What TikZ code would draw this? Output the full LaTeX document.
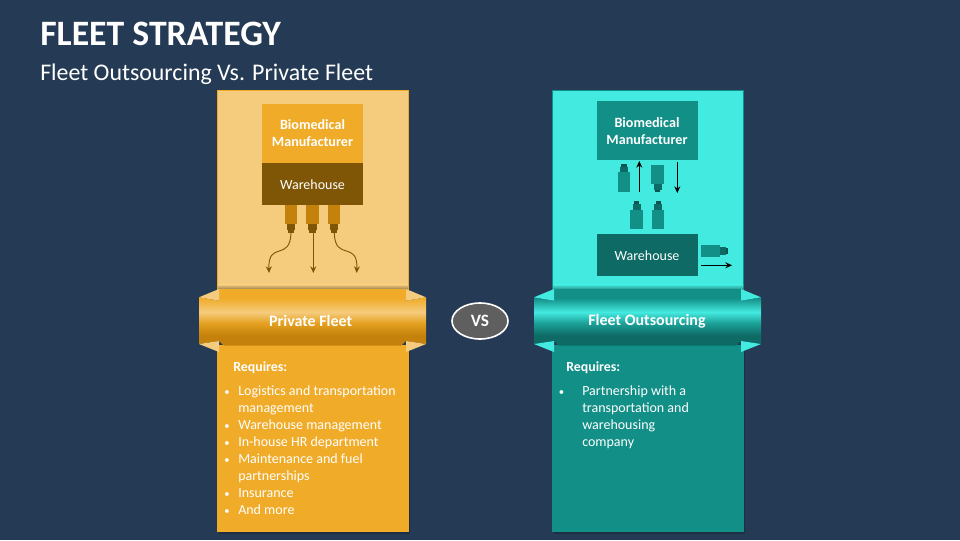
\documentclass[tikz,border=0pt]{standalone}
\usepackage{fontspec}
\setmainfont{Carlito}
\usetikzlibrary{arrows.meta,shapes.geometric}
\definecolor{bgc}{HTML}{253A54}
\definecolor{orA}{HTML}{F0AB28}
\definecolor{orL}{HTML}{F5CC7D}
\definecolor{orD}{HTML}{C4820C}
\definecolor{orW}{HTML}{7E5606}
\definecolor{teA}{HTML}{128F87}
\definecolor{teL}{HTML}{43EAE0}
\definecolor{teD}{HTML}{0D6A64}
\definecolor{vsc}{HTML}{5F5F5F}
\pgfdeclareverticalshading{ribbonor}{100bp}{
 color(0bp)=(orD); color(25bp)=(orD); color(34bp)=(orD); color(45bp)=(orA!75!orD); color(54.7bp)=(orL); color(67bp)=(orA); color(100bp)=(orA)}
\pgfdeclareverticalshading{ribbonte}{100bp}{
 color(0bp)=(teD); color(25bp)=(teD); color(34bp)=(teD); color(45bp)=(teA!80!teL); color(54.7bp)=(teL); color(67bp)=(teA); color(100bp)=(teA)}
\tikzset{
 x=0.75pt,y=-0.75pt,
 txt/.style={text=white,inner sep=0pt,font=\fontsize{10.5}{12.75}\selectfont},
 boxlabel/.style={txt,align=center,font=\fontsize{10.5}{10.5}\selectfont},
 boxtitle/.style={boxlabel,font=\fontsize{10.6}{12.75}\selectfont\bfseries},
 ribbonlabel/.style={txt,font=\fontsize{12}{14}\selectfont\bfseries},
 listtext/.style={txt,align=left,anchor=north west},
 reqlabel/.style={txt,anchor=base west,font=\fontsize{10.4}{12}\selectfont\bfseries},
 flowOr/.style={draw=orW,line width=0.7pt,-{Stealth[length=5pt,width=4.5pt]}},
 flowTe/.style={draw=black,line width=0.7pt,-{Stealth[length=5pt,width=4.5pt]}},
 sh/.style={fill=black,fill opacity=0.18,draw=none},
}
\newcommand{\lbul}{{\fontsize{8}{8}\selectfont\textbullet}}
\newcommand{\pitem}{\leavevmode\llap{\lbul\hspace{6.5pt}}}
\newcommand{\qitem}{\leavevmode\llap{\lbul\hspace{13.5pt}}}
\begin{document}
\begin{tikzpicture}
\useasboundingbox (0,0) rectangle (960,540);
\fill[bgc] (0,0) rectangle (960,540);
% title
\node[txt,anchor=base west,font=\fontsize{26.8}{30}\selectfont\bfseries] (title) at (40,45.7) {FLEET STRATEGY};
\node[txt,anchor=base west,font=\fontsize{17.9}{20}\selectfont] (subtitle) at (40,80) {Fleet Outsourcing Vs. Private Fleet};
% left panels
\fill[sh] (218.5,346) rectangle (410,533.5);
\fill[orA] (217.3,345) rectangle (408.7,531.7);
\filldraw[draw=orA,fill=orL,line width=0.75pt] (217.6,90.4) rectangle (408.4,289);
\shade[top color=orL,bottom color=orL!65!black] (218,284.5) rectangle (408,289);
% right panels
\fill[sh] (553.5,346) rectangle (745,533.5);
\fill[teA] (552.3,345) rectangle (743.7,531.7);
\filldraw[draw=teA,fill=teL,line width=0.75pt] (552.6,90.4) rectangle (743.4,289);
\shade[top color=teL,bottom color=teL!65!black] (553,284.5) rectangle (743,289);
% ribbons
\foreach \dx/\shd/\lite in {0/ribbonor/orL,335/ribbonte/teL}{
 \begin{scope}[shift={(\dx,0)}]
 \shade[shading=\shd] (199,297.3) -- (219,300.7) -- (219,289) -- (406,289) -- (406,300.7) -- (426,297.3) -- (426,344) -- (406,341) -- (401,345.7) -- (224,345.7) -- (219,341) -- (199,344) -- cycle;
 \fill[\lite] (219,289) -- (199,297.3) -- (219,300.7) -- cycle;
 \fill[\lite] (219,352) -- (199,344) -- (219,341) -- cycle;
 \fill[\lite] (406,289) -- (426,297.3) -- (406,300.7) -- cycle;
 \fill[\lite] (406,352) -- (426,344) -- (406,341) -- cycle;
 \end{scope}
}
\node[ribbonlabel] (ribA) at (310.7,321) {Private Fleet};
\node[ribbonlabel] (ribB) at (647,321) {Fleet Outsourcing};
% VS
\node[draw=white,fill=vsc,line width=1.2pt,ellipse,minimum width=42pt,minimum height=27pt,inner sep=0pt,text=white,font=\fontsize{13}{15}\selectfont\bfseries] (vs) at (480,321) {VS};
% left boxes
\fill[orA] (262,104) rectangle (363,163);
\fill[orW] (262,163) rectangle (363,205);
\node[boxtitle] (mfgA) at (312.5,133.5) {Biomedical\\Manufacturer};
\node[boxlabel] (whA) at (312.5,184.7) {Warehouse};
% left bottles
\foreach \xa/\xb in {285/297,306/319,328/340}{
 \fill[orD] (\xa,205) rectangle (\xb,224);
 \fill[orW] ({\xa+2},224) rectangle ({\xb-2},230);
 \fill[orW] ({\xa+3},230) rectangle ({\xb-3},233);
}
\coordinate (aS1) at (291,233); \coordinate (aE1) at (269,273);
\coordinate (aS2) at (313.3,233); \coordinate (aE2) at (313.3,273);
\coordinate (aS3) at (334.3,233); \coordinate (aE3) at (356.7,273);
\draw[flowOr] (aS1) .. controls (290,262) and (268,240) .. (aE1);
\draw[flowOr] (aS2) -- (aE2);
\draw[flowOr] (aS3) .. controls (335,262) and (358,240) .. (aE3);
% right boxes
\fill[teA] (597,101) rectangle (698,160);
\fill[teD] (597,234) rectangle (698,276);
\node[boxtitle] (mfgB) at (647,131) {Biomedical\\Manufacturer};
\node[boxlabel] (whB) at (647,255.7) {Warehouse};
% right bottles
\fill[teA] (618,172) rectangle (630,192);
\fill[teD] (620,167) rectangle (628,172);
\fill[teD!80!black] (621,164) rectangle (627,167);
\fill[teA] (651,165) rectangle (664,184);
\fill[teD] (654,184) rectangle (662,190);
\fill[teD!80!black] (655,190) rectangle (660,192);
\fill[teA] (630,210) rectangle (643,229);
\fill[teD] (633,204) rectangle (641,210);
\fill[teD!80!black] (634,201) rectangle (639,204);
\fill[teA] (652,210) rectangle (664,229);
\fill[teD] (654,204) rectangle (662,210);
\fill[teD!80!black] (656,201) rectangle (661,204);
\fill[teA] (701,245) rectangle (720,257);
\fill[teD] (720,247) rectangle (726,255);
\fill[teD!80!black] (726,248) rectangle (728,254);
\coordinate (bS1) at (639.3,192); \coordinate (bE1) at (639.3,161);
\coordinate (bS2) at (677.3,162); \coordinate (bE2) at (677.3,193);
\coordinate (bS3) at (701,265.3); \coordinate (bE3) at (732,265.3);
\draw[flowTe] (bS1) -- (bE1);
\draw[flowTe] (bS2) -- (bE2);
\draw[flowTe] (bS3) -- (bE3);
% lists
\node[reqlabel] (reqA) at (233,371.7) {Requires:};
\node[listtext] (listA) at (238,385.5) {\pitem Logistics and transportation\\management\\\pitem Warehouse management\\\pitem In-house HR department\\\pitem Maintenance and fuel\\partnerships\\\pitem Insurance\\\pitem And more};
\node[reqlabel] (reqB) at (566,371.7) {Requires:};
\node[listtext] (listB) at (582,385.5) {\qitem Partnership with a\\transportation and\\warehousing\\company};
\end{tikzpicture}
\end{document}
